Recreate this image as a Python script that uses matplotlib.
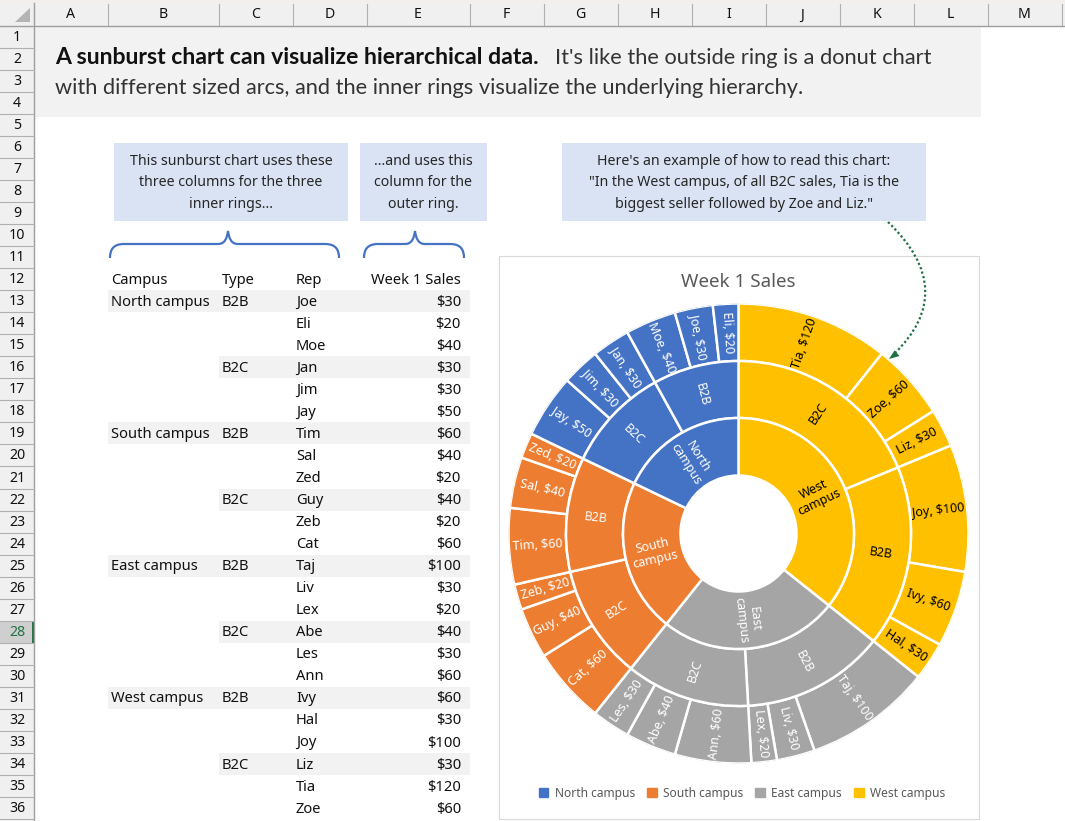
import numpy as np
import matplotlib
matplotlib.use("Agg")
import matplotlib.pyplot as plt
from matplotlib.patches import Rectangle, PathPatch, Polygon, Patch
from matplotlib.path import Path

plt.rcParams['font.family'] = ['Noto Sans', 'DejaVu Sans']

campus = ['North campus', '', '', '', '', '', 'South campus', '', '', '', '', '',
          'East campus', '', '', '', '', '', 'West campus', '', '', '', '', '']
rep_type = ['B2B', '', '', 'B2C', '', ''] * 4
reps = ['Joe', 'Eli', 'Moe', 'Jan', 'Jim', 'Jay', 'Tim', 'Sal', 'Zed', 'Guy', 'Zeb', 'Cat',
        'Taj', 'Liv', 'Lex', 'Abe', 'Les', 'Ann', 'Ivy', 'Hal', 'Joy', 'Liz', 'Tia', 'Zoe']
sales = [30, 20, 40, 30, 30, 50, 60, 40, 20, 40, 20, 60,
         100, 30, 20, 40, 30, 60, 60, 30, 100, 30, 120, 60]
campus_names = ['North campus', 'South campus', 'East campus', 'West campus']
campus_colors = ['#4472c4', '#ed7d31', '#a5a5a5', '#ffc000']
columns = ['A', 'B', 'C', 'D', 'E', 'F', 'G', 'H', 'I', 'J', 'K', 'L', 'M']
col_edges = [33.5, 107.5, 218.5, 292.5, 366.5, 469.5, 543.5, 617.5, 691.5, 765.5, 839.5, 913.5, 987.5, 1061.5]

ROW_H = 22.04
ROW_0 = 25.7
TEXT = '#111111'


def row_y(n):
    return ROW_0 + ROW_H * (n - 1)


def brace(ax, x0, x1, xm):
    verts = [(x0, 258), (x0, 250), (x0 + 3, 244), (x0 + 14, 244), (xm - 10, 244),
             (xm - 3, 244), (xm - 1, 238), (xm, 231), (xm + 1, 238), (xm + 3, 244),
             (xm + 10, 244), (x1 - 14, 244), (x1 - 3, 244), (x1, 250), (x1, 258)]
    codes = [Path.MOVETO, Path.CURVE4, Path.CURVE4, Path.CURVE4, Path.LINETO,
             Path.CURVE4, Path.CURVE4, Path.CURVE4, Path.CURVE4, Path.CURVE4,
             Path.CURVE4, Path.LINETO, Path.CURVE4, Path.CURVE4, Path.CURVE4]
    ax.add_patch(PathPatch(Path(verts, codes), fc='none', ec='#4472c4', lw=1.6))


fig = plt.figure(figsize=(10.65, 8.21), dpi=100)
sheet = fig.add_axes([0, 0, 1, 1])
sheet.set_xlim(0, 1065)
sheet.set_ylim(821, 0)
sheet.axis('off')

# excel frame
sheet.add_patch(Rectangle((0, 0), 1065, 3, fc='#f3efeb', ec='none'))
sheet.add_patch(Rectangle((0, 3), 1065, 22.7, fc='#f0f0f0', ec='none'))
sheet.add_patch(Rectangle((0, 3), 33.5, 818, fc='#f0f0f0', ec='none'))
sheet.plot([0, 1065], [25.7, 25.7], color='#9e9e9e', lw=1)
sheet.plot([33.5, 33.5], [3, 821], color='#9e9e9e', lw=1)
sheet.add_patch(Polygon([(30, 8), (30, 22), (15, 22)], fc='#b4b4b4', ec='none'))
for i, c in enumerate(columns):
    sheet.plot([col_edges[i + 1]] * 2, [4, 25], color='#b0b0b0', lw=0.8)
    sheet.text((col_edges[i] + col_edges[i + 1]) / 2, 15, c, ha='center', va='center',
               fontsize=10.2, color=TEXT)
for n in range(1, 38):
    y = row_y(n)
    if n == 28:
        sheet.add_patch(Rectangle((0, y), 33.5, ROW_H, fc='#cfcfcf', ec='none'))
        sheet.add_patch(Rectangle((32, y), 2, ROW_H, fc='#217346', ec='none'))
    sheet.plot([0, 33.5], [y + ROW_H] * 2, color='#b0b0b0', lw=0.8)
    if n < 37:
        sheet.text(17, y + ROW_H / 2 + 0.5, str(n), ha='center', va='center', fontsize=10.2,
                   color='#217346' if n == 28 else TEXT)

# heading
sheet.add_patch(Rectangle((33.5, 25.7), 947.5, 91, fc='#f2f2f2', ec='none'))
sheet.text(55, 58, 'A sunburst chart can visualize hierarchical data.', family='Lato', fontsize=16.6,
           fontweight='bold', va='center', color='#111111')
sheet.text(555, 58, "It's like the outside ring is a donut chart", family='Lato', fontsize=15.75,
           va='center', color='#333333')
sheet.text(55, 88, 'with different sized arcs, and the inner rings visualize the underlying hierarchy.',
           family='Lato', fontsize=15.7, va='center', color='#333333')

# notes
notes = [(114, 234, 'This sunburst chart uses these\nthree columns for the three\ninner rings...'),
         (360, 127, '...and uses this\ncolumn for the\nouter ring.'),
         (562, 364, "Here's an example of how to read this chart:\n"
                    "\"In the West campus, of all B2C sales, Tia is the\n"
                    "biggest seller followed by Zoe and Liz.\"")]
for x, w, s in notes:
    sheet.add_patch(Rectangle((x, 143), w, 78, fc='#dae3f3', ec='none'))
    sheet.text(x + w / 2, 183, s, ha='center', va='center', fontsize=10.2,
               linespacing=1.6, color='#262626')
brace(sheet, 110, 339, 228)
brace(sheet, 364, 464, 415)

# table
for x, s in [(111, 'Campus'), (222, 'Type'), (296, 'Rep')]:
    sheet.text(x, row_y(12) + ROW_H / 2 + 1, s, va='center', fontsize=10.6, color=TEXT)
sheet.text(461, row_y(12) + ROW_H / 2 + 1, 'Week 1 Sales', va='center', ha='right', fontsize=10.6, color=TEXT)
for i in range(len(reps)):
    n = 13 + i
    y = row_y(n)
    if campus[i]:
        sheet.add_patch(Rectangle((107.5, y), 362, ROW_H, fc='#f2f2f2', ec='none'))
    elif rep_type[i]:
        sheet.add_patch(Rectangle((218.5, y), 251, ROW_H, fc='#f2f2f2', ec='none'))
    ty = y + ROW_H / 2 + 1
    sheet.text(111, ty, campus[i], va='center', fontsize=10.6, color=TEXT)
    sheet.text(222, ty, rep_type[i], va='center', fontsize=10.6, color=TEXT)
    sheet.text(296, ty, reps[i], va='center', fontsize=10.6, color=TEXT)
    sheet.text(461, ty, '$' + str(sales[i]), va='center', ha='right', fontsize=10.6, color=TEXT)

# chart box
sheet.add_patch(Rectangle((499, 256.5), 479.5, 563, fc='white', ec='#d9d9d9', lw=0.8))
sheet.text(738.5, 282, 'Week 1 Sales', ha='center', va='center', fontsize=13.5, color='#595959')

# dotted arrow from the note down to the Zoe arc
sheet.add_patch(PathPatch(Path([(888, 222), (960, 291), (893, 355)],
                               [Path.MOVETO, Path.CURVE3, Path.CURVE3]),
                          fc='none', ec='#1e7145', lw=1.6, ls=(0, (1, 1.1))))
sheet.add_patch(Polygon([(889, 359), (894.5, 350.5), (899.5, 356)], fc='#1e7145', ec='none'))

# group the data the way excel does: biggest campus, type, rep first
campus_of = []
type_of = []
current_c = current_t = ''
for c, t in zip(campus, rep_type):
    current_c = c or current_c
    current_t = t or current_t
    campus_of.append(current_c)
    type_of.append(current_t)
order = list(range(len(reps)))[::-1]
camp_total = {c: sum(s for s, k in zip(sales, campus_of) if k == c) for c in campus_names}
type_total = {(c, t): sum(s for s, k, m in zip(sales, campus_of, type_of) if k == c and m == t)
              for c, t in zip(campus_of, type_of)}
order.sort(key=lambda i: (-camp_total[campus_of[i]], -type_total[(campus_of[i], type_of[i])],
                          type_of[i] != 'B2C' if campus_of[i] == 'South campus' else False, -sales[i]))

total = sum(sales)
to_theta = 2 * np.pi / total
radii = [58, 115.5, 172.5, 230]

pol = fig.add_axes([(738.5 - 230) / 1065, (821 - 533.5 - 230) / 821, 460 / 1065, 460 / 821],
                   projection='polar')
pol.set_theta_zero_location('N')
pol.set_theta_direction(-1)
pol.set_ylim(0, 230)
pol.axis('off')
pol.patch.set_alpha(0)


def ring(level, start, value, color, label, txt_color):
    th = start * to_theta
    wd = value * to_theta
    pol.bar(th, radii[level + 1] - radii[level], width=wd, bottom=radii[level], align='edge',
            color=color, edgecolor='white', linewidth=1.8)
    mid = th + wd / 2
    deg = np.degrees(mid)
    rot = 90 - deg if deg < 180 else 270 - deg
    pol.text(mid, (radii[level] + radii[level + 1]) / 2, label, rotation=rot, rotation_mode='anchor',
             ha='center', va='center', fontsize=9, color=txt_color, linespacing=1.05)


pos = 0
for c in sorted(campus_names, key=lambda k: -camp_total[k]):
    col = campus_colors[campus_names.index(c)]
    tc = 'black' if c == 'West campus' else 'white'
    c_start = pos
    seen = []
    for i in order:
        if campus_of[i] == c and type_of[i] not in seen:
            seen.append(type_of[i])
    for t in seen:
        t_start = pos
        for i in order:
            if campus_of[i] == c and type_of[i] == t:
                ring(2, pos, sales[i], col, '%s, $%d' % (reps[i], sales[i]), tc)
                pos += sales[i]
        ring(1, t_start, pos - t_start, col, t, tc)
    ring(0, c_start, pos - c_start, col, c.replace(' ', '\n'), tc)

handles = [Patch(color=k, label=n) for n, k in zip(campus_names, campus_colors)]
sheet.legend(handles=handles, loc='center', bbox_to_anchor=(742, 793), bbox_transform=sheet.transData,
             ncol=4, frameon=False, fontsize=8.6, labelcolor='#595959', handlelength=0.8, handleheight=0.8,
             handletextpad=0.55, columnspacing=1.0)

fig.savefig('out.png', dpi=100)
